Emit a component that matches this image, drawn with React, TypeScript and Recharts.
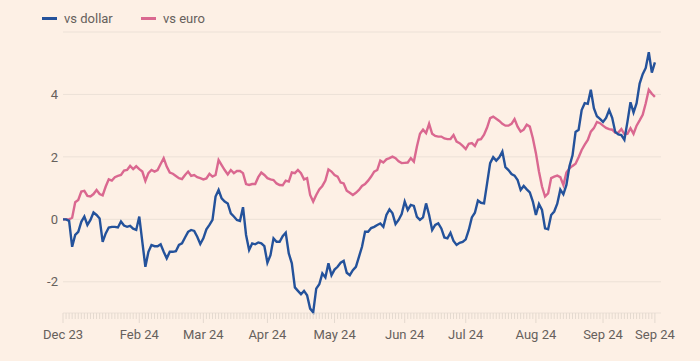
import React from 'react';
import { LineChart, Line, XAxis, YAxis, CartesianGrid } from 'recharts';

const dollar: number[] = [
  0.0, 0.0, -0.05, -0.88, -0.5, -0.4, -0.08, 0.09, -0.18, -0.02,
  0.22, 0.14, 0.03, -0.72, -0.45, -0.26, -0.24, -0.24, -0.26, -0.07,
  -0.2, -0.24, -0.21, -0.3, -0.34, 0.09, -0.72, -1.52, -1.04, -0.82,
  -0.86, -0.86, -0.8, -1.04, -1.25, -1.04, -1.04, -1.02, -0.82, -0.77,
  -0.58, -0.4, -0.34, -0.37, -0.56, -0.79, -0.61, -0.32, -0.18, -0.02,
  0.73, 0.94, 0.67, 0.57, 0.51, 0.19, 0.09, -0.02, -0.05, 0.39,
  -0.5, -0.98, -0.77, -0.8, -0.74, -0.77, -0.86, -1.39, -1.15, -0.61,
  -0.72, -0.72, -0.54, -0.43, -1.09, -1.41, -2.18, -2.29, -2.4, -2.29,
  -2.43, -2.86, -2.98, -2.22, -2.08, -1.73, -1.86, -1.41, -1.79, -1.61,
  -1.52, -1.39, -1.33, -1.71, -1.79, -1.63, -1.52, -1.2, -0.88, -0.4,
  -0.4, -0.28, -0.24, -0.18, -0.13, -0.24, 0.14, 0.32, 0.19, -0.15,
  -0.02, 0.17, 0.57, 0.3, 0.46, 0.43, 0.08, -0.02, 0.06, 0.51,
  0.14, -0.34, -0.18, -0.13, -0.29, -0.58, -0.61, -0.43, -0.69, -0.82,
  -0.75, -0.72, -0.64, -0.34, 0.06, 0.21, 0.6, 0.53, 0.51, 1.15,
  1.8, 1.99, 1.88, 1.99, 2.17, 1.67, 1.58, 1.45, 1.4, 1.26,
  0.94, 1.07, 0.96, 0.86, 0.57, 0.14, 0.49, 0.3, -0.29, -0.32,
  0.14, 0.25, 0.5, 0.95, 0.8, 1.1, 1.7, 2.05, 2.8, 2.87,
  3.5, 3.72, 3.7, 4.15, 3.56, 3.3, 3.22, 3.12, 3.25, 3.5,
  3.25, 2.8, 2.72, 2.7, 2.55, 3.12, 3.75, 3.42, 3.72, 4.35,
  4.65, 4.85, 5.35, 4.7, 5.03,
];

const euro: number[] = [
  0.0, 0.0, 0.0, 0.05, 0.55, 0.62, 0.89, 0.91, 0.75, 0.73,
  0.81, 0.94, 0.81, 0.77, 1.05, 1.28, 1.24, 1.35, 1.39, 1.42,
  1.56, 1.58, 1.71, 1.61, 1.7, 1.61, 1.53, 1.23, 1.48, 1.58,
  1.53, 1.58, 1.77, 1.96, 1.69, 1.5, 1.46, 1.39, 1.32, 1.29,
  1.42, 1.53, 1.39, 1.42, 1.35, 1.32, 1.28, 1.31, 1.46, 1.37,
  1.42, 1.9, 1.74, 1.58, 1.44, 1.58, 1.48, 1.55, 1.55, 1.48,
  1.13, 1.1, 1.13, 1.13, 1.35, 1.5, 1.42, 1.32, 1.28, 1.26,
  1.15, 1.1, 1.09, 1.24, 1.21, 1.5, 1.48, 1.58, 1.48, 1.28,
  1.32, 0.78, 0.57, 0.78, 0.96, 1.07, 1.24, 1.6, 1.53, 1.42,
  1.37, 1.18, 1.15, 0.92, 0.85, 0.78, 0.85, 0.94, 1.07, 1.13,
  1.24, 1.37, 1.53, 1.58, 1.88, 1.82, 1.92, 1.96, 2.01, 1.96,
  1.86, 1.8, 1.81, 1.82, 1.96, 1.85, 2.33, 2.74, 2.87, 2.76,
  3.06, 2.74, 2.67, 2.65, 2.65, 2.59, 2.57, 2.57, 2.7, 2.49,
  2.44, 2.35, 2.25, 2.42, 2.44, 2.35, 2.55, 2.57, 2.71, 2.94,
  3.24, 3.29, 3.22, 3.15, 3.06, 3.0, 3.0, 3.06, 3.21, 2.97,
  2.81, 2.87, 3.03, 2.97, 2.6, 2.12, 1.53, 1.05, 0.73, 0.83,
  1.32, 1.37, 1.4, 1.35, 1.1, 1.5, 1.63, 1.71, 1.78, 1.99,
  2.22, 2.39, 2.54, 2.81, 2.92, 3.12, 3.08, 3.0, 2.93, 2.89,
  2.87, 2.77, 2.78, 2.89, 2.73, 2.74, 2.92, 2.74, 3.0, 3.17,
  3.35, 3.72, 4.15, 4.02, 3.92,
];

const tickIndex: number[] = [0, 25, 46, 67, 89, 112, 132, 155, 177, 194];
const tickLabels: string[] = ['Dec 23', 'Feb 24', 'Mar 24', 'Apr 24', 'May 24', 'Jun 24', 'Jul 24', 'Aug 24', 'Sep 24', 'Sep 24'];
const yTicks: number[] = [-2, 0, 2, 4];

const seriesNames = { dollar: 'vs dollar', euro: 'vs euro' };
const BLUE = '#24529b';
const PINK = '#da6890';
const BG = '#fdf0e5';
const TEXT = '#66605c';

const rows = dollar.map((v, i) => ({ i, dollar: v, euro: euro[i] }));
const allIdx = rows.map((r) => r.i);

const XTick = (props: any) => {
  const { x, y, payload } = props;
  const k = tickIndex.indexOf(payload.value);
  const major = k >= 0;
  return (
    <g>
      <line x1={x} x2={x} y1={y} y2={y + (major ? 10 : 6)} stroke="#e4d9cf" strokeWidth={1} />
      {major && (
        <text x={x} y={y + 26} textAnchor="middle" fill={TEXT} fontSize={13}>
          {tickLabels[k]}
        </text>
      )}
    </g>
  );
};

export default function App() {
  return (
    <div
      style={{
        position: 'absolute',
        left: 0,
        top: 0,
        width: 700,
        height: 361,
        background: BG,
        fontFamily: 'Roboto, sans-serif',
      }}
    >
      <div style={{ position: 'absolute', left: 42, top: 9, height: 19, display: 'flex', alignItems: 'center', fontSize: 13, color: TEXT }}>
        <span style={{ display: 'inline-block', width: 15, height: 3, background: BLUE, marginRight: 7 }} />
        <span>{seriesNames.dollar}</span>
      </div>
      <div style={{ position: 'absolute', left: 141, top: 9, height: 19, display: 'flex', alignItems: 'center', fontSize: 13, color: TEXT }}>
        <span style={{ display: 'inline-block', width: 15, height: 3, background: PINK, marginRight: 7 }} />
        <span>{seriesNames.euro}</span>
      </div>
      <LineChart width={700} height={361} data={rows} margin={{ top: 32, right: 39, bottom: 0, left: 0 }}>
        <CartesianGrid vertical={false} stroke="#ece1d7" />
        <XAxis
          dataKey="i"
          type="number"
          domain={[0, 196]}
          ticks={allIdx}
          interval={0}
          tick={<XTick />}
          tickLine={false}
          axisLine={false}
          tickSize={0}
          tickMargin={0}
          height={48}
        />
        <YAxis
          domain={[-3, 6]}
          ticks={yTicks}
          width={63}
          tickSize={0}
          tickMargin={5}
          tickLine={false}
          axisLine={false}
          tick={{ fill: TEXT, fontSize: 13 }}
        />
        <Line type="linear" dataKey="euro" stroke={PINK} strokeWidth={2.4} dot={false} isAnimationActive={false} />
        <Line type="linear" dataKey="dollar" stroke={BLUE} strokeWidth={2.4} dot={false} isAnimationActive={false} />
      </LineChart>
    </div>
  );
}
